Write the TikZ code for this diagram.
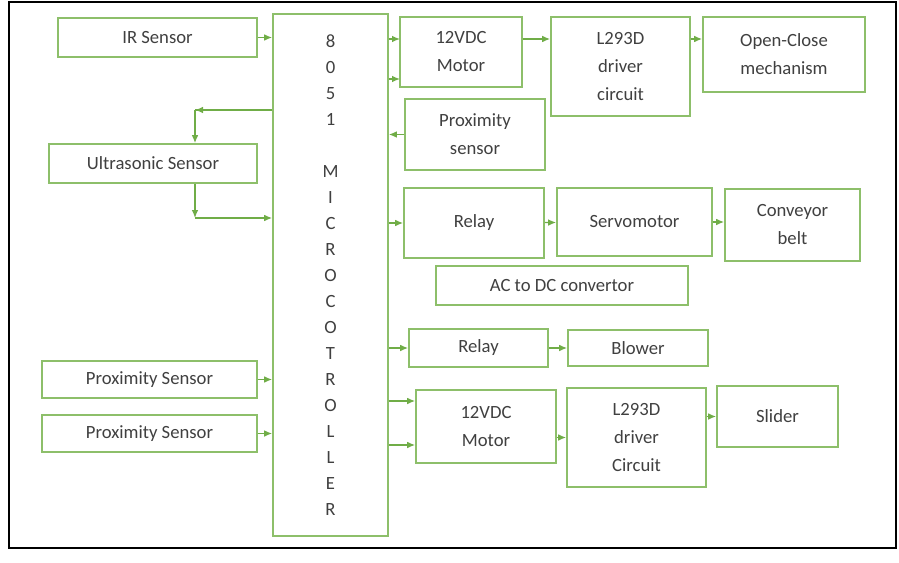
\documentclass[tikz,border=0pt]{standalone}
\usepackage{fontspec}
\setmainfont{Carlito}
\usetikzlibrary{arrows.meta}
\definecolor{grn}{HTML}{70AD47}
\definecolor{bdr}{HTML}{8DBF6A}
\definecolor{txt}{HTML}{404040}
\tikzset{
  box/.style 2 args={draw=bdr, line width=1.3pt, fill=white, text=txt,
    align=center, inner sep=2pt, font=\fontsize{14}{21}\selectfont,
    minimum width=#1*0.75pt, minimum height=#2*0.75pt},
  arr/.style={draw=grn, line width=1pt, -{Latex[length=6pt,width=5pt]}},
  ln/.style={draw=grn, line width=1pt}
}
\begin{document}
\begin{tikzpicture}[x=0.75pt,y=-0.75pt]
\useasboundingbox (0,0) rectangle (899,563);
\draw[line width=2.2pt] (9,2) rectangle (896,548);

% left side
\node[box={199}{39}] (ir) at (157.5,37.5) {IR Sensor};
\node[box={208}{39}] (us) at (153,163.5) {Ultrasonic Sensor};
\node[box={215}{37}] (px1) at (149.5,379.5) {Proximity Sensor};
\node[box={215}{37}] (px2) at (149.5,433.5) {Proximity Sensor};

% controller
\node[box={115}{522}, font=\fontsize{14}{19.5}\selectfont, anchor=north]
  (mc) at (330.5,13)
  {8\\0\\5\\1\\[19.5pt]M\\I\\C\\R\\O\\C\\O\\T\\R\\O\\L\\L\\E\\R};

% right side
\node[box={122}{70}] (mot1) at (461,52) {12VDC\\Motor};
\node[box={139}{99}] (drv1) at (620.5,66.5) {L293D\\driver\\circuit};
\node[box={162}{75}] (oc) at (784,54.5) {Open-Close\\mechanism};
\node[box={140}{71}] (prs) at (475,134.5) {Proximity\\sensor};
\node[box={140}{70}] (rl1) at (474,223) {Relay};
\node[box={155}{68}] (srv) at (634.5,222) {Servomotor};
\node[box={135}{72}] (cb) at (792.5,225) {Conveyor\\belt};
\node[box={252}{39}] (acdc) at (562,285.5) {AC to DC convertor};
\node[box={139}{38}] (rl2) at (478.5,348) {Relay};
\node[box={140}{36}] (bl) at (638,348) {Blower};
\node[box={140}{73}] (mot2) at (486,426.5) {12VDC\\Motor};
\node[box={139}{99}] (drv2) at (636.5,437.5) {L293D\\driver\\Circuit};
\node[box={121}{61}] (sl) at (777.5,416.5) {Slider};

% connector ends
\coordinate (a1) at (400,39);
\coordinate (a2) at (400,79);
\coordinate (a3) at (400,401);
\coordinate (a4) at (416,445);
\coordinate (u1) at (195,110);
\coordinate (u2) at (195,218);

\draw[arr] (ir) -- (mc.west |- ir);
\draw[ln] (mc.west |- u1) -- (u1);
\draw[arr] (mc.west |- u1) -- (195,110);
\draw[arr] (u1) -- (us.north -| u1);
\draw[arr] (us.south -| u1) -- (u2);
\draw[arr] (u2) -- (mc.west |- u2);
\draw[arr] (px1) -- (mc.west |- px1);
\draw[arr] (px2) -- (mc.west |- px2);

\draw[arr] (mc.east |- a1) -- (a1);
\draw[arr] (mc.east |- a2) -- (a2);
\draw[arr] (prs) -- (mc.east |- prs);
\draw[arr] (mc.east |- rl1) -- (rl1);
\draw[arr] (mc.east |- rl2) -- (rl2);
\draw[arr] (mc.east |- a3) -- (mot2.west |- a3);
\draw[arr] (mc.east |- a4) -- (mot2.west |- a4);

\draw[arr] (mot1.east |- a1) -- (drv1.west |- a1);
\draw[arr] (drv1.east |- a1) -- (oc.west |- a1);
\draw[arr] (rl1) -- (srv);
\draw[arr] (srv) -- (cb.west |- srv);
\draw[arr] (rl2) -- (bl);
\draw[arr] (mot2.east |- drv2) -- (drv2.west);
\draw[arr] (drv2.east |- sl) -- (sl);
\end{tikzpicture}
\end{document}
